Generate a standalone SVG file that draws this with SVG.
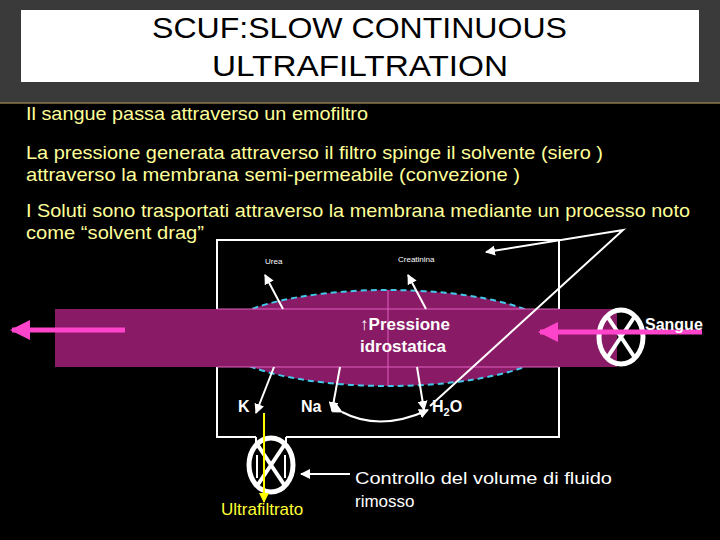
<svg xmlns="http://www.w3.org/2000/svg" width="720" height="540" viewBox="0 0 720 540">
<defs>
<style>
.body{font-family:"Liberation Sans",Arial,sans-serif;font-size:19px;fill:#ffff99}
.w{fill:#fff;font-family:"Liberation Sans",Arial,sans-serif}
.wl{stroke:#fff;stroke-width:2;fill:none}
</style>
<marker id="wa" viewBox="0 0 10 10" refX="9" refY="5" markerWidth="5" markerHeight="5" orient="auto"><path d="M0,0L10,5L0,10z" fill="#fff"/></marker>
<marker id="pa" viewBox="0 0 10 10" refX="9" refY="5" markerWidth="4" markerHeight="4" orient="auto"><path d="M0,0L10,5L0,10z" fill="#ff44cc"/></marker>
<marker id="ya" viewBox="0 0 10 10" refX="9" refY="5" markerWidth="5" markerHeight="5" orient="auto"><path d="M0,0L10,5L0,10z" fill="#ffff00"/></marker>
</defs>
<rect width="720" height="540" fill="#000"/>
<rect width="720" height="103" fill="#3a3a3a"/>
<line x1="0" y1="103" x2="720" y2="103" stroke="#8a7a50" stroke-width="1.5"/>
<g id="title">
<rect x="21" y="10" width="678" height="72" fill="#fff"/>
<text x="152" y="38" textLength="415" lengthAdjust="spacingAndGlyphs" font-family="Liberation Sans,Arial,sans-serif" font-size="29">SCUF:SLOW CONTINUOUS</text>
<text x="212" y="76" textLength="296" lengthAdjust="spacingAndGlyphs" font-family="Liberation Sans,Arial,sans-serif" font-size="29">ULTRAFILTRATION</text>
</g>
<g id="bodytext">
<text class="body" x="26" y="120" textLength="342" lengthAdjust="spacingAndGlyphs">Il sangue passa attraverso un emofiltro</text>
<text class="body" x="26" y="159" textLength="577" lengthAdjust="spacingAndGlyphs">La pressione generata attraverso il filtro spinge il solvente (siero )</text>
<text class="body" x="26" y="181" textLength="494" lengthAdjust="spacingAndGlyphs">attraverso la membrana  semi-permeabile (convezione )</text>
<text class="body" x="26" y="217" textLength="664" lengthAdjust="spacingAndGlyphs">I Soluti sono trasportati attraverso la membrana mediante un processo noto</text>
<text class="body" x="26" y="239" textLength="178" lengthAdjust="spacingAndGlyphs">come “solvent drag”</text>
</g>
<g id="filter">
<path d="M256,437 H217 V240 H559 V437 H286" class="wl"/>
<ellipse cx="388" cy="338" rx="171" ry="48" fill="#891b66" stroke="#44c8e8" stroke-width="2" stroke-dasharray="6,4"/>
<rect x="55" y="309" width="562" height="58" fill="#891b66"/>
<line x1="217" y1="309" x2="559" y2="309" stroke="#e060c0" stroke-width="1"/>
<line x1="217" y1="367" x2="559" y2="367" stroke="#e060c0" stroke-width="1"/>
<line x1="388" y1="290" x2="388" y2="386" stroke="#e060c0" stroke-width="1"/>
<text class="w" x="405" y="330" text-anchor="middle" font-size="17" font-weight="bold">↑Pressione</text>
<text class="w" x="403" y="352" text-anchor="middle" font-size="17" font-weight="bold">idrostatica</text>
</g>
<g id="valve-blood">
<ellipse cx="621" cy="337" rx="22" ry="27" fill="none" stroke="#fff" stroke-width="5"/>
<path d="M607,316 L635,358 M635,316 L607,358" stroke="#fff" stroke-width="4"/>
</g>
<g id="valve-uf">
<path d="M256,437 V447 M286,437 V447" class="wl"/>
<ellipse cx="271" cy="465" rx="22" ry="27" fill="none" stroke="#fff" stroke-width="5"/>
<path d="M257,444 L285,486 M285,444 L257,486" stroke="#fff" stroke-width="4"/>
<path d="M257,455 V478 M285,455 V478" stroke="#fff" stroke-width="2"/>
</g>
<g id="labels">
<text class="w" x="265" y="264" font-size="8">Urea</text>
<text class="w" x="398" y="262" font-size="8">Creatinina</text>
<text class="w" x="238" y="412" font-size="16" font-weight="bold">K</text>
<text class="w" x="301" y="412" font-size="16" font-weight="bold">Na</text>
<text class="w" x="432" y="412" font-size="16" font-weight="bold">H<tspan font-size="11" dy="4">2</tspan><tspan dy="-4">O</tspan></text>
<text x="221" y="515" font-family="Liberation Sans,Arial,sans-serif" font-size="17" fill="#ffff33">Ultrafiltrato</text>
<text class="w" x="355" y="484" font-size="17" textLength="257" lengthAdjust="spacingAndGlyphs">Controllo del volume di fluido</text>
<text class="w" x="355" y="507" font-size="17">rimosso</text>
</g>
<g id="connectors">
<line x1="283" y1="309" x2="265" y2="275" class="wl" marker-end="url(#wa)"/>
<line x1="426" y1="309" x2="408" y2="275" class="wl" marker-end="url(#wa)"/>
<line x1="274" y1="367" x2="256" y2="413" class="wl" marker-end="url(#wa)"/>
<line x1="340" y1="367" x2="332" y2="411" class="wl" marker-end="url(#wa)"/>
<line x1="417" y1="367" x2="424" y2="410" class="wl" marker-end="url(#wa)"/>
<path d="M342,412 Q380,432 428,410" class="wl" marker-start="url(#wa)" marker-end="url(#wa)"/>
<path d="M430,406 L623,230 L486,252" class="wl" marker-end="url(#wa)"/>
<line x1="350" y1="474" x2="301" y2="474" class="wl" marker-end="url(#wa)"/>
<line x1="264" y1="413" x2="264" y2="502" stroke="#ffff00" stroke-width="2" marker-end="url(#ya)"/>
<line x1="702" y1="332" x2="540" y2="332" stroke="#ff44cc" stroke-width="5" marker-end="url(#pa)"/>
<line x1="125" y1="330" x2="12" y2="330" stroke="#ff44cc" stroke-width="5" marker-end="url(#pa)"/>
</g>
<text class="w" x="645" y="330" font-size="16" font-weight="bold">Sangue</text>
</svg>
